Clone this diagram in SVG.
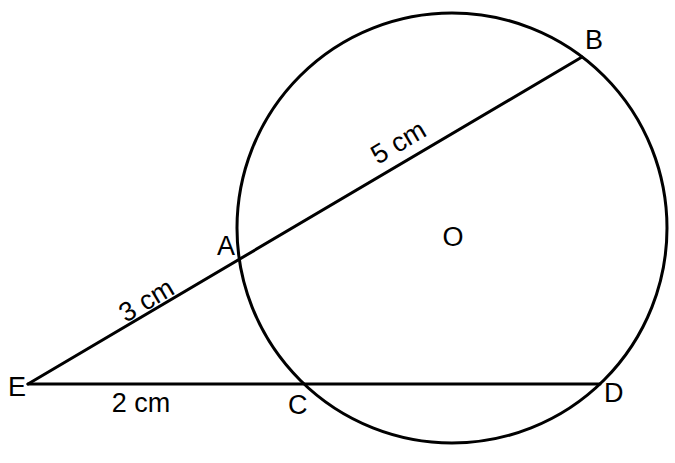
<svg xmlns="http://www.w3.org/2000/svg" width="675" height="463" viewBox="0 0 675 463">
<style>
.ln{fill:none;stroke:#000;stroke-width:3;stroke-linecap:round}
.t{font-family:"Liberation Sans",Arial,sans-serif;font-size:27px;fill:#000}
</style>
<rect width="675" height="463" fill="#fff"/>
<g id="circle-O"><circle class="ln" cx="452" cy="228" r="215"/><text class="t" x="453" y="246" text-anchor="middle">O</text></g>
<g id="connectors">
<line class="ln" x1="28" y1="384" x2="582" y2="57"/>
<line class="ln" x1="28" y1="384" x2="600" y2="384"/>
</g>
<g id="E"><text class="t" x="8" y="396">E</text></g>
<g id="A"><text class="t" x="217" y="255">A</text></g>
<g id="B"><text class="t" x="585" y="49">B</text></g>
<g id="C"><text class="t" x="288" y="414">C</text></g>
<g id="D"><text class="t" x="604" y="402">D</text></g>
<g id="labels">
<text class="t" x="141" y="412" text-anchor="middle">2 cm</text>
<text class="t" text-anchor="middle" transform="translate(151,308) rotate(-30.6)">3 cm</text>
<text class="t" text-anchor="middle" transform="translate(403,150) rotate(-30.6)">5 cm</text>
</g>
</svg>
